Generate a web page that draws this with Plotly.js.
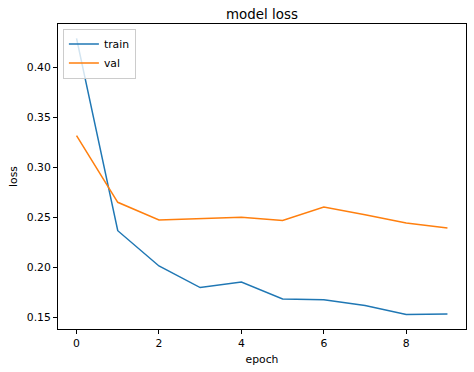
<!DOCTYPE html>
<html><head><meta charset="utf-8">
<script src="https://cdn.plot.ly/plotly-3.0.1.min.js"></script>
<style>html,body{margin:0;padding:0;background:#fff}#c{width:474px;height:372px}</style>
</head><body><div id="c"></div>
<script>
const epochs = [0,1,2,3,4,5,6,7,8,9];
const trainLoss = [0.429,0.2366,0.2013,0.1797,0.1852,0.1683,0.1676,0.1617,0.1527,0.1532];
const valLoss = [0.3317,0.2650,0.2473,0.2487,0.2500,0.2468,0.2603,0.2525,0.2443,0.2393];
const xTicks = [0,2,4,6,8];
const yTicks = [0.15,0.20,0.25,0.30,0.35,0.40];

const font = {family:'DejaVu Sans, sans-serif', size:10.8, color:'#000'};
const traces = [
  {x:epochs, y:trainLoss, name:'train', mode:'lines', line:{color:'#1f77b4', width:1.5}},
  {x:epochs, y:valLoss, name:'val', mode:'lines', line:{color:'#ff7f0e', width:1.5}}
];
const axisCommon = {showline:true, mirror:true, linecolor:'#000', linewidth:1, ticks:'outside', ticklen:4, tickcolor:'#000', showgrid:false, zeroline:false, tickfont:font};
const layout = {
  width:474, height:372,
  margin:{l:58, r:8, t:24, b:43},
  paper_bgcolor:'#fff', plot_bgcolor:'#fff',
  font:font,
  title:{text:'model loss', font:{family:'DejaVu Sans, sans-serif', size:13.4, color:'#000'}, x:0.5, xanchor:'center', y:0.962, yanchor:'middle', xref:'paper'},
  xaxis:Object.assign({}, axisCommon, {range:[-0.45,9.45], tickvals:xTicks, ticktext:xTicks.map(String), title:{text:'epoch', font:font, standoff:6}}),
  yaxis:Object.assign({}, axisCommon, {range:[0.1383,0.4433], tickvals:yTicks, ticktext:yTicks.map(v=>v.toFixed(2)), title:{text:'loss', font:font, standoff:7}}),
  showlegend:true,
  legend:{x:0.012, y:0.985, xanchor:'left', yanchor:'top', bgcolor:'rgba(255,255,255,0.8)', bordercolor:'#cccccc', borderwidth:1, font:font, tracegroupgap:0, itemwidth:30}
};
Plotly.newPlot('c', traces, layout, {staticPlot:true, displayModeBar:false});
</script></body></html>
